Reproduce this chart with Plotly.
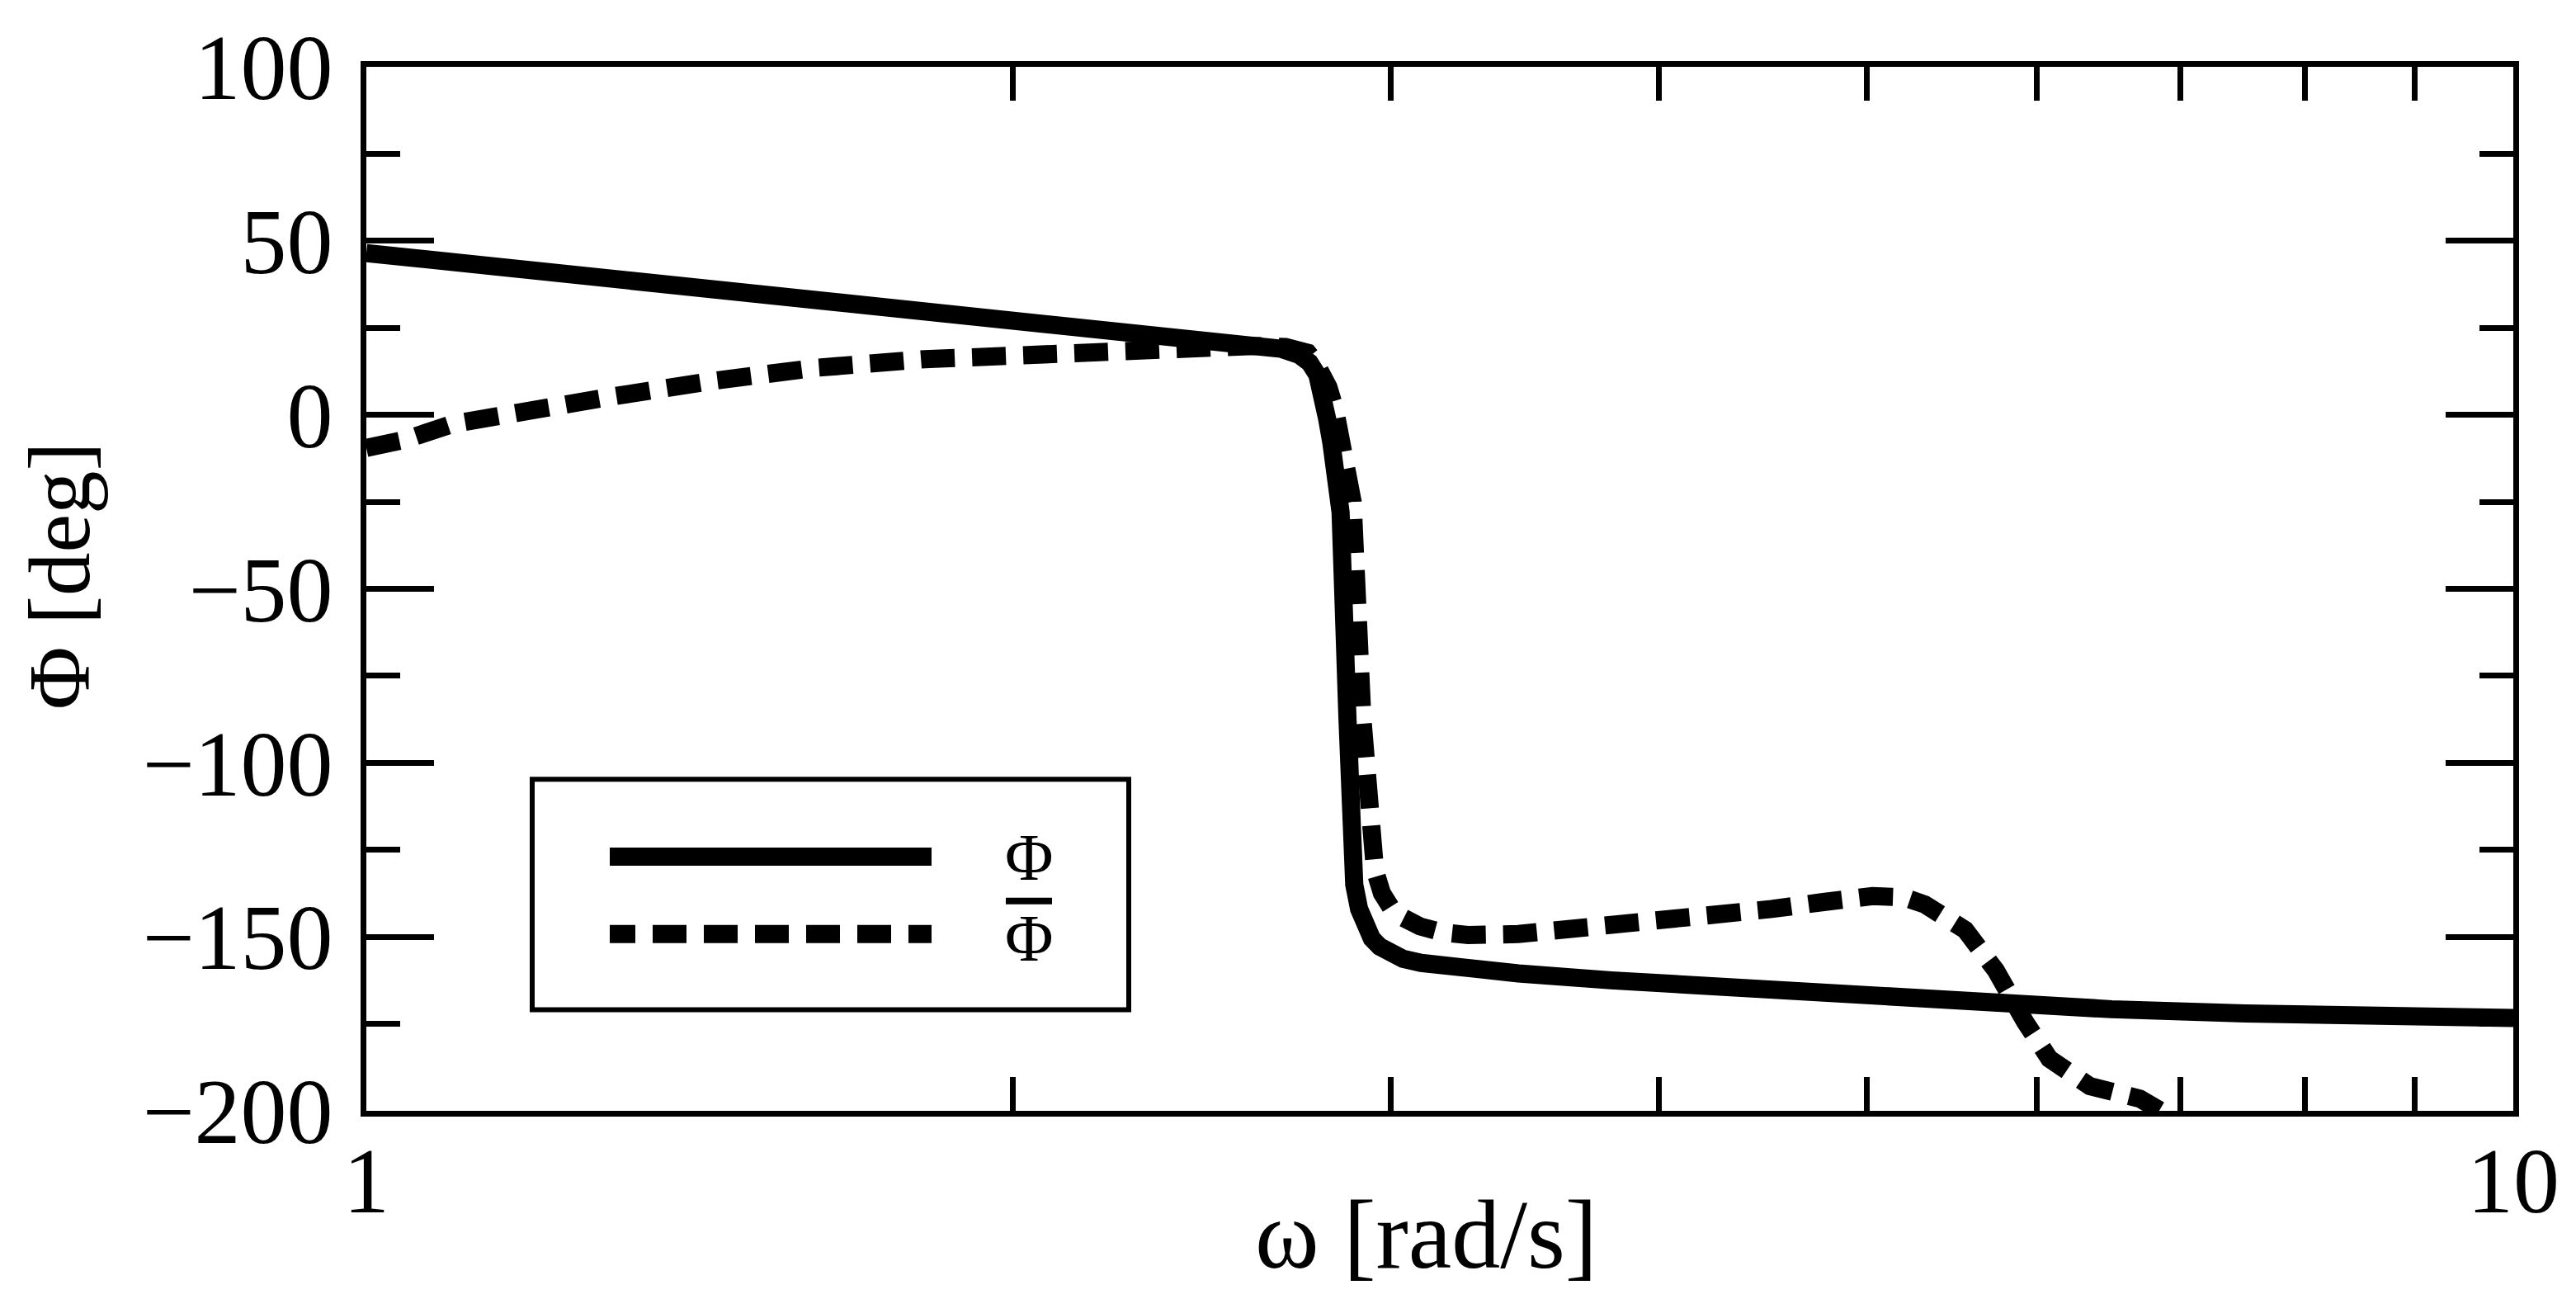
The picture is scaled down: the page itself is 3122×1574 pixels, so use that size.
import plotly.graph_objects as go

# ---------------- data ----------------
omega_phi = [1.0, 1.2, 1.4, 1.618, 1.8, 2.0, 2.2, 2.4, 2.515, 2.6, 2.667, 2.72,
             2.75, 2.773, 2.79, 2.802, 2.815, 2.83, 2.843, 2.864, 2.872, 2.885,
             2.9, 2.92, 2.94, 2.965, 2.988, 3.04, 3.1, 3.2, 3.44, 3.8, 4.4, 5.0,
             5.645, 6.5, 7.5, 8.5, 10.0]
phi = [46.5, 41.5, 37.3, 33.3, 30.4, 27.5, 25.0, 22.6, 21.3, 20.0, 19.0, 17.2,
       15.0, 11.5, 6.0, -1.0, -8.0, -16.0, -28.0, -87.0, -123.0, -135.0,
       -142.0, -147.0, -150.5, -152.8, -154.3, -156.3, -157.5, -158.8, -160.5,
       -162.5, -164.8, -166.9, -169.0, -170.8, -172.0, -172.7, -173.3]

omega_phibar = [1.0, 1.043, 1.097, 1.159, 1.225, 1.3, 1.44, 1.618, 1.82, 2.02,
                2.253, 2.477, 2.59, 2.68, 2.72, 2.745, 2.765, 2.785, 2.806, 2.825,
                2.845, 2.865, 2.88, 2.91, 2.934, 2.95, 2.972, 3.0, 3.04, 3.096,
                3.17, 3.26, 3.44, 3.635, 3.842, 4.063, 4.296, 4.514, 4.772, 5.03,
                5.2, 5.32, 5.555, 5.74, 5.925, 6.08, 6.35, 6.7, 6.85]
phibar = [-9.5, -7.1, -2.6, 0.2, 2.8, 5.2, 9.5, 13.5, 16.0, 17.5,
          19.0, 19.5, 19.8, 19.5, 18.8, 17.8, 15.5, 12.5, 8.0, 2.0,
          -6.0, -15.0, -25.0, -87.0, -123.0, -131.0, -137.5, -141.5, -144.5, -147.0,
          -148.7, -149.5, -149.2, -148.0, -146.8, -145.4, -143.7, -142.0, -140.0, -138.3,
          -138.6, -140.7, -148.0, -159.6, -174.5, -185.0, -192.9, -196.5, -200.0]

y_major = [-200, -150, -100, -50, 0, 50, 100]
y_minor = [-175, -125, -75, -25, 25, 75]
x_major = [1, 10]
x_major_text = ["1", "10"]
x_minor = [2, 3, 4, 5, 6, 7, 8, 9]

legend_labels = ["Φ", "Φ"]
x_title = "ω [rad/s]"
y_title = "Φ [deg]"

# ---------------- figure ----------------
W, H = 3122, 1574
L, R, T, B = 436, 84, 69, 236
pw, ph = W - L - R, H - T - B

def px(x):
    return (x - L) / pw

def py(y):
    return (H - B - y) / ph

FONT = "Liberation Serif"
LW = 22

fig = go.Figure()
fig.add_trace(go.Scatter(x=omega_phibar, y=phibar, mode="lines",
                         line=dict(color="black", width=LW, dash="41px,21px"),
                         showlegend=False))
fig.add_trace(go.Scatter(x=omega_phi, y=phi, mode="lines",
                         line=dict(color="black", width=LW),
                         showlegend=False))

axis_common = dict(showline=True, linecolor="black", linewidth=7, mirror="ticks",
                   ticks="inside", tickcolor="black", tickwidth=6.5, ticklen=82,
                   showgrid=False, zeroline=False,
                   tickfont=dict(family=FONT, size=112, color="black"))

fig.update_xaxes(type="log", range=[0, 1], tickmode="array", tickvals=x_major,
                 ticktext=x_major_text, ticklabelstandoff=-18,
                 minor=dict(tickmode="array", tickvals=x_minor, ticks="inside",
                            ticklen=41, tickwidth=6.5, tickcolor="black", showgrid=False),
                 **axis_common)
fig.update_yaxes(range=[-200, 100], tickmode="array", tickvals=y_major,
                 ticklabelstandoff=11,
                 minor=dict(tickmode="array", tickvals=y_minor, ticks="inside",
                            ticklen=41, tickwidth=6.5, tickcolor="black", showgrid=False),
                 **axis_common)

shapes = []
# legend box
shapes.append(dict(type="rect", xref="paper", yref="paper",
                   x0=px(637), x1=px(1360), y0=py(1215), y1=py(935),
                   line=dict(color="black", width=6), fillcolor="white", layer="above"))
# legend samples
shapes.append(dict(type="line", xref="paper", yref="paper",
                   x0=px(731), x1=px(1121), y0=py(1029), y1=py(1029),
                   line=dict(color="black", width=LW), layer="above"))
shapes.append(dict(type="line", xref="paper", yref="paper",
                   x0=px(731), x1=px(1121), y0=py(1123), y1=py(1123),
                   line=dict(color="black", width=LW,
                             dash="31px,21px,41px,21px,41px,21px,41px,21px,41px,21px,41px,21px,31px"),
                   layer="above"))
# bar between the two legend labels
shapes.append(dict(type="line", xref="paper", yref="paper",
                   x0=px(1211), x1=px(1267), y0=py(1083), y1=py(1083),
                   line=dict(color="black", width=8), layer="above"))

annotations = [
    dict(text=legend_labels[0], xref="paper", yref="paper", x=px(1239), y=py(1030),
         xanchor="center", yanchor="middle", showarrow=False,
         font=dict(family=FONT, size=80, color="black")),
    dict(text=legend_labels[1], xref="paper", yref="paper", x=px(1239), y=py(1128),
         xanchor="center", yanchor="middle", showarrow=False,
         font=dict(family=FONT, size=80, color="black")),
    dict(text=x_title, xref="paper", yref="paper", x=px(1720), y=0, yshift=-150,
         xanchor="center", yanchor="middle", showarrow=False,
         font=dict(family=FONT, size=118, color="black")),
    dict(text=y_title, xref="paper", yref="paper", x=0, xshift=-372, y=py(688),
         xanchor="center", yanchor="middle", showarrow=False, textangle=-90,
         font=dict(family=FONT, size=105, color="black")),
]

fig.update_layout(width=W, height=H, margin=dict(l=L, r=R, t=T, b=B),
                  paper_bgcolor="white", plot_bgcolor="white",
                  shapes=shapes, annotations=annotations, showlegend=False)

fig.write_html("out.html")
